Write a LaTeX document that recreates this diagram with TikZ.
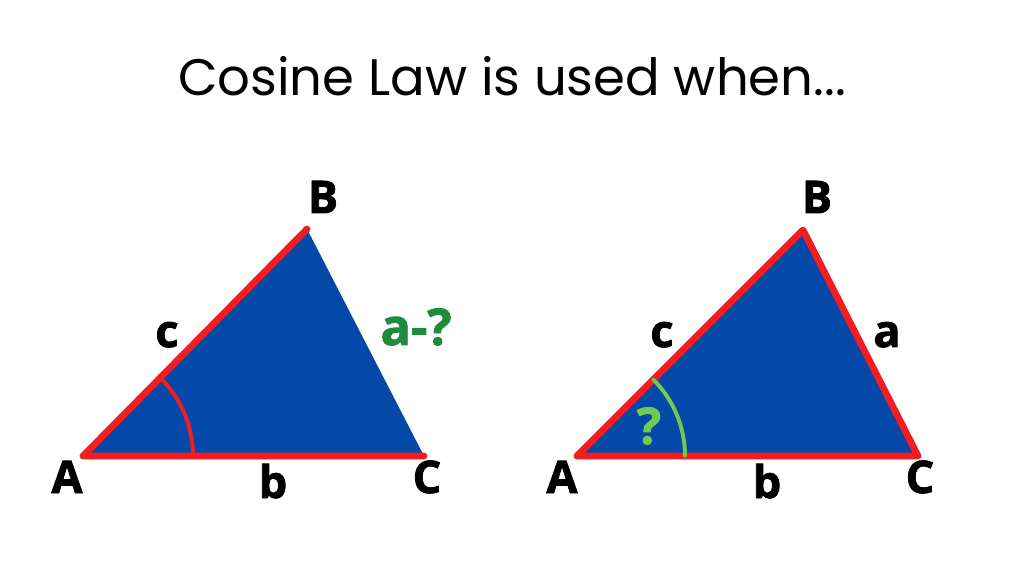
\documentclass[tikz,border=0pt]{standalone}
\usepackage{fontspec}
\setmainfont{Open Sans}[BoldFeatures={FakeBold=1.8}]
\newfontfamily\titlefont{Poppins}
\usetikzlibrary{positioning,calc}

\definecolor{triblue}{HTML}{0448A8}
\definecolor{edgered}{HTML}{F21C21}
\definecolor{darkgreen}{HTML}{1E8C3C}
\definecolor{lightgreen}{HTML}{6DCB52}

\begin{document}
\begin{tikzpicture}[x=0.025cm, y=-0.025cm, line cap=round, line join=round]
      \tikzstyle{lbl}=[inner sep=0pt, anchor=base, font=\fontsize{32}{32}\selectfont\bfseries]
      \tikzstyle{biglbl}=[lbl, font=\fontsize{36}{36}\selectfont\bfseries]
      \tikzstyle{side}=[draw=edgered, line width=4.8pt]
      \tikzstyle{angle}=[line width=2.8pt]
      \def \rad {110}
      % page
      \useasboundingbox[fill=white] (0,0) rectangle (1024,576);
      \node[inner sep=0pt, anchor=base, font=\titlefont\fontsize{36.5}{36.5}\selectfont]
        (title) at (512,96) {Cosine Law is used when...};

      % left triangle: a unknown
      \coordinate (A1) at (83,456);
      \coordinate (B1) at (307,229);
      \coordinate (C1) at (424,456);
      \fill[triblue] (A1) -- (B1) -- (C1) -- cycle;
      \draw[side] (B1) -- (A1) -- (C1);
      \draw[angle, edgered] ($(A1)+(\rad,0)$) arc[start angle=0, end angle=-45.4, radius=\rad];
      \node[lbl] (lA1) at (67,493) {A};
      \node[lbl] (lB1) at (323,213) {B};
      \node[lbl] (lC1) at (427,493) {C};
      \node[lbl] (lc1) at (167,347) {c};
      \node[lbl] (lb1) at (273,498) {b};
      \node[biglbl, text=darkgreen] (la1) at (416,345) {a-?};

      % right triangle: angle A unknown
      \coordinate (A2) at (577,456);
      \coordinate (B2) at (803,230);
      \coordinate (C2) at (918,456);
      \fill[triblue] (A2) -- (B2) -- (C2) -- cycle;
      \draw[side] (A2) -- (B2) -- (C2) -- cycle;
      \draw[angle, lightgreen] ($(A2)+(108,0)$) arc[start angle=0, end angle=-45, radius=108];
      \node[lbl] (lA2) at (562,493) {A};
      \node[lbl] (lB2) at (817,213) {B};
      \node[lbl] (lC2) at (920,493) {C};
      \node[lbl] (lc2) at (662,347) {c};
      \node[lbl] (lb2) at (767,498) {b};
      \node[lbl] (la2) at (887,347) {a};
      \node[biglbl, text=lightgreen] (q2) at (649,444) {?};
\end{tikzpicture}
\end{document}
